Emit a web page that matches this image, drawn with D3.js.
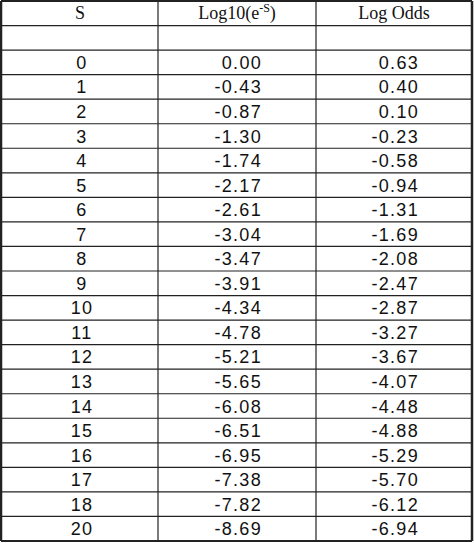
<!DOCTYPE html>
<html>
<head>
<meta charset="utf-8">
<script src="https://cdn.jsdelivr.net/npm/d3@7"></script>
<style>
  body { margin: 0; background: #fff; }
</style>
</head>
<body>
<svg id="tbl" width="474" height="543"></svg>
<script>
// table contents
var headers = ["S", "Log10(e", "Log Odds"];
var sValues = [0, 1, 2, 3, 4, 5, 6, 7, 8, 9, 10, 11, 12, 13, 14, 15, 16, 17, 18, 20];
var log10Values = ["0.00", "-0.43", "-0.87", "-1.30", "-1.74", "-2.17", "-2.61", "-3.04", "-3.47", "-3.91",
                   "-4.34", "-4.78", "-5.21", "-5.65", "-6.08", "-6.51", "-6.95", "-7.38", "-7.82", "-8.69"];
var logOdds = ["0.63", "0.40", "0.10", "-0.23", "-0.58", "-0.94", "-1.31", "-1.69", "-2.08", "-2.47",
               "-2.87", "-3.27", "-3.67", "-4.07", "-4.48", "-4.88", "-5.29", "-5.70", "-6.12", "-6.94"];

var svg = d3.select("#tbl");
var nRows = sValues.length + 2;

// row and column scales
var y = d3.scaleLinear().domain([0, nRows]).range([1, 541]);
var colEdges = [1, 158, 316, 472];

// horizontal rules
svg.selectAll("line.h").data(d3.range(nRows + 1)).enter().append("line")
   .attr("x1", 1).attr("x2", 472)
   .attr("y1", function(d){ return y(d); }).attr("y2", function(d){ return y(d); })
   .attr("stroke", "#222").attr("stroke-width", function(d){ return (d == 0 || d == nRows) ? 2 : 1.2; });

// vertical rules
svg.selectAll("line.v").data(colEdges).enter().append("line")
   .attr("x1", function(d){ return d; }).attr("x2", function(d){ return d; })
   .attr("y1", y(0)).attr("y2", y(nRows))
   .attr("stroke", "#222").attr("stroke-width", function(d, i){ return (i == 0 || i == 3) ? 2.5 : 1.2; });

// header row (serif)
var hdr = svg.append("g").attr("font-family", "Liberation Serif, Times New Roman, serif")
             .attr("font-size", 18).attr("fill", "#111").attr("text-anchor", "middle");
hdr.append("text").attr("x", 80).attr("y", y(0.5) + 6).text(headers[0]);
var h2 = hdr.append("text").attr("x", 237).attr("y", y(0.5) + 6);
h2.append("tspan").text(headers[1]);
h2.append("tspan").attr("dy", -7).attr("font-size", 12).text("-S");
h2.append("tspan").attr("dy", 7).text(")");
hdr.append("text").attr("x", 394).attr("y", y(0.5) + 6).text(headers[2]);

// data rows
var body = svg.append("g").attr("font-family", "Liberation Sans, Arial, sans-serif")
              .attr("font-size", 18).attr("fill", "#111").attr("letter-spacing", 1.3);
var rows = body.selectAll("g.row").data(sValues).enter().append("g")
   .attr("transform", function(d, i){ return "translate(0," + (y(i + 2.5) + 6.5) + ")"; });
rows.append("text").attr("x", 82).attr("text-anchor", "middle").text(function(d){ return d; });
rows.append("text").attr("x", 262).attr("text-anchor", "end").text(function(d, i){ return log10Values[i]; });
rows.append("text").attr("x", 419).attr("text-anchor", "end").text(function(d, i){ return logOdds[i]; });
</script>
</body>
</html>
